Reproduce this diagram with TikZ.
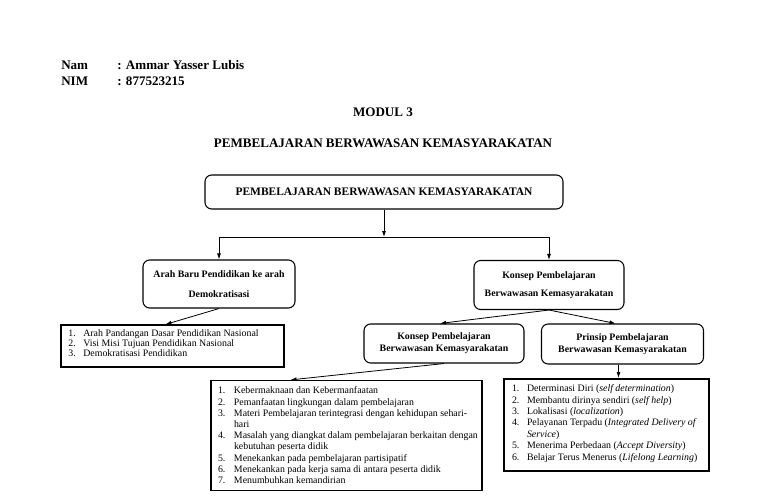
\documentclass[tikz,border=0pt]{standalone}
\usepackage{fontspec}
\setmainfont{Liberation Serif}
\usetikzlibrary{arrows.meta,calc}
\newcommand\listbox[5]{% height, width, toppad, baselineskip, content
  \parbox[c][#1][t]{#2}{\vspace*{#3}\fontsize{7.4}{#4}\selectfont\setlength\tabcolsep{0pt}\renewcommand\arraystretch{1}#5}}
\begin{document}
\begin{tikzpicture}[x=0.75pt,y=-0.75pt,
  rbox/.style={draw, rounded corners=5pt, line width=0.8pt, inner sep=0pt, align=center,
    font=\fontsize{7.4}{8.9}\selectfont\bfseries},
  lbox/.style={draw, line width=0.9pt, inner sep=0pt},
  conn/.style={line width=0.6pt},
  arr/.style={conn, -{Latex[length=4.5pt,width=3pt]}},
  hdr/.style={inner sep=0pt, font=\fontsize{9.8}{12}\selectfont\bfseries}]
\useasboundingbox (0,0) rectangle (768,503);

% header
\node[hdr, anchor=base west] (nam) at (61,70) {Nam};
\node[hdr, anchor=base west] (namv) at (117,70) {: Ammar Yasser Lubis};
\node[hdr, anchor=base west] (nim) at (61,86) {NIM};
\node[hdr, anchor=base west] (nimv) at (117,86) {: 877523215};
\node[hdr, anchor=base] (modul) at (383,117) {MODUL 3};
\node[hdr, anchor=base] (title) at (383,147.5) {PEMBELAJARAN BERWAWASAN KEMASYARAKATAN};

% boxes
\node[rbox, minimum width=268.5pt, minimum height=25.5pt, font=\fontsize{8.6}{10}\selectfont\bfseries] (top) at (384,192)
  {PEMBELAJARAN BERWAWASAN KEMASYARAKATAN};
\node[rbox, minimum width=114pt, minimum height=36pt] (A) at (219,284)
  {Arah Baru Pendidikan ke arah\\[5.7pt]Demokratisasi};
\node[rbox, minimum width=112.5pt, minimum height=36.75pt] (B) at (549,285)
  {Konsep Pembelajaran\\[4.2pt]Berwawasan Kemasyarakatan};
\node[rbox, minimum width=120pt, minimum height=29.25pt] (C) at (444,343.5)
  {Konsep Pembelajaran\\Berwawasan Kemasyarakatan};
\node[rbox, minimum width=121.5pt, minimum height=30pt] (D) at (622.5,344)
  {Prinsip Pembelajaran\\Berwawasan Kemasyarakatan};

% lists
\node[lbox] (L) at (172.5,346) {\listbox{31.5pt}{167.25pt}{3.6pt}{7.5pt}{\hspace*{5.5pt}%
  \begin{tabular}{@{}p{11.25pt}l@{}}
  1. & Arah Pandangan Dasar Pendidikan Nasional\\
  2. & Visi Misi Tujuan Pendidikan Nasional\\
  3. & Demokratisasi Pendidikan
  \end{tabular}}};
\node[lbox] (M) at (346.5,435.5) {\listbox{82.5pt}{203.25pt}{4.2pt}{8.4pt}{\hspace*{5.25pt}%
  \begin{tabular}{@{}p{12pt}l@{}}
  1. & Kebermaknaan dan Kebermanfaatan\\
  2. & Pemanfaatan lingkungan dalam pembelajaran\\
  3. & Materi Pembelajaran terintegrasi dengan kehidupan sehari-\\
     & hari\\
  4. & Masalah yang diangkat dalam pembelajaran berkaitan dengan\\
     & kebutuhan peserta didik\\
  5. & Menekankan pada pembelajaran partisipatif\\
  6. & Menekankan pada kerja sama di antara peserta didik\\
  7. & Menumbuhkan kemandirian
  \end{tabular}}};
\node[lbox, line width=1.5pt] (R) at (606.5,425) {\listbox{69pt}{153.75pt}{3.4pt}{8.6pt}{\hspace*{6pt}%
  \begin{tabular}{@{}p{11.25pt}l@{}}
  1. & Determinasi Diri (\textit{self determination})\\
  2. & Membantu dirinya sendiri (\textit{self help})\\
  3. & Lokalisasi (\textit{localization})\\
  4. & Pelayanan Terpadu (\textit{Integrated Delivery of}\\
     & \textit{Service})\\
  5. & Menerima Perbedaan (\textit{Accept Diversity})\\
  6. & Belajar Terus Menerus (\textit{Lifelong Learning})
  \end{tabular}}};

% connectors
\coordinate (j) at (384,237);
\coordinate (jl) at (219,237);
\coordinate (jr) at (549,237);
\coordinate (dr) at ($(D.south)+(-4,0)$);
\draw[arr] (top.south) -- (j);
\draw[conn] (jl) -- (jr);
\draw[arr] (jl) -- (A.north);
\draw[arr] (jr) -- (B.north);
\draw[arr] (A.south) -- ($(L.north)+(-7,0)$);
\draw[arr] (B.south) -- ($(C.north)+(-4,0)$);
\draw[arr] (B.south) -- ($(D.north)+(-7,0)$);
\draw[arr] (C.south) -- ($(M.north)+(-56,0)$);
\draw[arr] (dr) -- (dr |- R.north);
\end{tikzpicture}
\end{document}
